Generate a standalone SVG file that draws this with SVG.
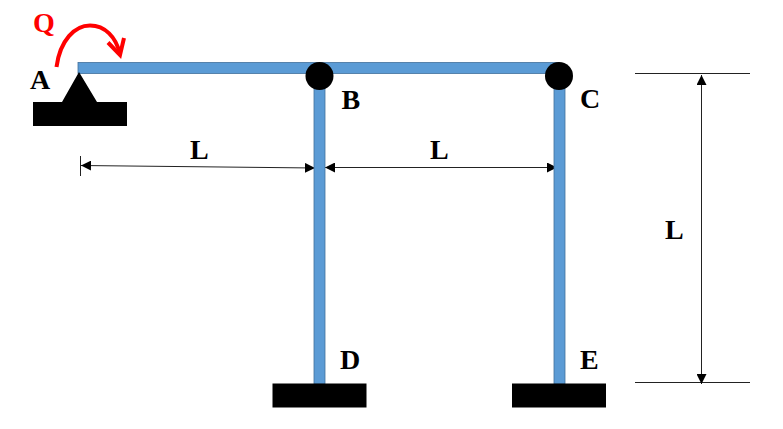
<svg xmlns="http://www.w3.org/2000/svg" width="783" height="429" viewBox="0 0 783 429">
<style>
.lbl{font-family:"Liberation Serif","Times New Roman",serif;font-weight:bold;font-size:28px;fill:#000}
.beam{fill:#5b9bd5;stroke:#41719c;stroke-width:.8}
.dim{stroke:#222;stroke-width:1;fill:none}
.blk{fill:#000}
</style>
<defs>
<marker id="ah" viewBox="0 0 10 10" refX="10" refY="5" markerWidth="10" markerHeight="10" markerUnits="userSpaceOnUse" orient="auto-start-reverse"><path d="M0 0L10 5L0 10Z" fill="#000"/></marker>
</defs>
<rect width="783" height="429" fill="#fff"/>
<g id="connectors">
<path class="dim" d="M80.500 156V176"/>
<path class="dim" d="M81 165.500L315 168" marker-start="url(#ah)" marker-end="url(#ah)"/>
<path class="dim" d="M325 167.500L557 167.500" marker-start="url(#ah)" marker-end="url(#ah)"/>
<path class="dim" d="M635 73.500H750"/>
<path class="dim" d="M635 382.500H750"/>
<path class="dim" d="M701.500 75V384" marker-start="url(#ah)" marker-end="url(#ah)"/>
<path d="M56.500 67C60 40 75 25.500 90 25.500C105 25.500 116 37 120 54" fill="none" stroke="#f00" stroke-width="4"/>
<path d="M108 42.500L120 55L124 38" fill="none" stroke="#f00" stroke-width="4"/>
</g>
<g id="beam-ABC"><rect class="beam" x="78" y="62.500" width="481" height="11"/></g>
<g id="col-BD"><rect class="beam" x="314" y="75" width="11" height="309"/></g>
<g id="col-CE"><rect class="beam" x="554" y="75" width="11" height="309"/></g>
<g id="node-A">
<path class="blk" d="M79 72L97 102H127V126H33V102H62Z"/>
<text class="lbl" x="30" y="89">A</text>
</g>
<g id="node-Q"><text class="lbl" x="33" y="32" style="fill:#f00">Q</text></g>
<g id="node-B">
<circle class="blk" cx="319.500" cy="76" r="14"/>
<text class="lbl" x="341.500" y="109">B</text>
</g>
<g id="node-C">
<circle class="blk" cx="559" cy="76" r="14"/>
<text class="lbl" x="580" y="108">C</text>
</g>
<g id="node-D">
<rect class="blk" x="272.500" y="383.500" width="94" height="24"/>
<text class="lbl" x="340" y="369">D</text>
</g>
<g id="node-E">
<rect class="blk" x="512" y="383.500" width="94" height="24"/>
<text class="lbl" x="580" y="369">E</text>
</g>
<g id="labels">
<text class="lbl" x="190" y="159">L</text>
<text class="lbl" x="430" y="159">L</text>
<text class="lbl" x="665" y="239">L</text>
</g>
</svg>
